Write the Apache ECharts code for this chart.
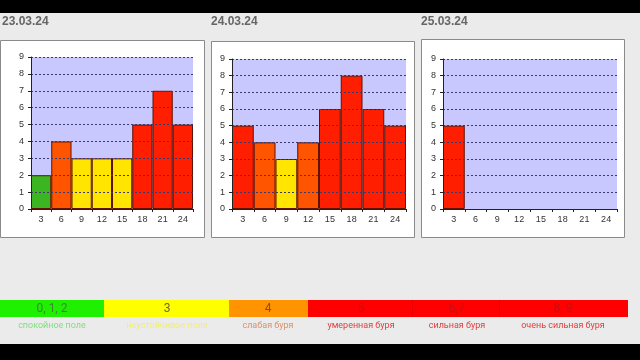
<!DOCTYPE html>
<html><head><meta charset="utf-8">
<script src="https://cdn.jsdelivr.net/npm/echarts@6/dist/echarts.min.js"></script>
<style>html,body{margin:0;padding:0;background:#ebebeb;}#c{width:640px;height:360px;}</style>
</head><body><div id="c"></div>
<script>
const hours = ['3','6','9','12','15','18','21','24'];
const dates = ['23.03.24','24.03.24','25.03.24'];
const kpDay1 = [2,4,3,3,3,5,7,5];
const kpDay2 = [5,4,3,4,6,8,6,5];
const kpDay3 = [5,null,null,null,null,null,null,null];
const yTicks = [0,1,2,3,4,5,6,7,8,9];
const scaleLabels = ['0, 1, 2','3','4','5','6,7','8, 9'];
const scaleNames = ['спокойное поле','неустойчивое поле','слабая буря','умеренная буря','сильная буря','очень сильная буря'];

function barColor(v){
  if (v <= 2) return '#3bb521';
  if (v === 3) return '#ffe500';
  if (v === 4) return '#ff5500';
  return '#ff1e00';
}

const chart = echarts.init(document.getElementById('c'), null, {renderer:'canvas'});
const grids = [
  {left:31, top:57, width:162, height:152},
  {left:232, top:59, width:174, height:150},
  {left:443, top:59, width:174, height:150}
];
const boxes = [
  {x:0.5, y:40.5, w:204, h:197},
  {x:211.5, y:41.5, w:203, h:196},
  {x:421.5, y:39.5, w:203, h:198}
];
const titleX = [2, 211, 421];
const series = [kpDay1, kpDay2, kpDay3];

const option = {
  animation:false,
  backgroundColor:'#ebebeb',
  grid: grids.map(g => Object.assign({show:true, backgroundColor:'#c8c8ff', borderWidth:0, z:2}, g)),
  xAxis: grids.map((g,i) => ({
    type:'category', gridIndex:i, data:hours,
    axisLine:{show:true, lineStyle:{color:'#222', width:1}},
    axisTick:{show:true, length:3, lineStyle:{color:'#222'}},
    axisLabel:{color:'#333', fontSize:9, fontFamily:'Arial, Liberation Sans', margin:6},
    z:5
  })),
  yAxis: grids.map((g,i) => ({
    type:'value', gridIndex:i, min:0, max:9, interval:1,
    axisLine:{show:true, lineStyle:{color:'#222', width:1}},
    axisTick:{show:true, length:3, lineStyle:{color:'#222'}},
    axisLabel:{color:'#333', fontSize:9, fontFamily:'Arial, Liberation Sans', margin:7,
      formatter: v => yTicks.includes(v) ? String(v) : ''},
    splitLine:{show:true, lineStyle:{color:'#3a3a70', type:[2,2], width:1}},
    z:5
  })),
  series: series.map((d,i) => ({
    type:'bar', xAxisIndex:i, yAxisIndex:i, barCategoryGap:'0%',
    data: d.map(v => v == null ? null : {value:v, itemStyle:{color:barColor(v)}}),
    itemStyle:{borderColor:'#5e1200', borderWidth:1},
    z:3
  })),
  graphic: [
    {type:'rect', shape:{x:0,y:0,width:640,height:13}, style:{fill:'#000'}, z:-5},
    {type:'rect', shape:{x:0,y:344,width:640,height:16}, style:{fill:'#000'}, z:-5},
    ...boxes.map(b => ({type:'rect', shape:{x:b.x,y:b.y,width:b.w,height:b.h}, style:{fill:'#fff', stroke:'#8a8a8a', lineWidth:1}, z:-5})),
    ...dates.map((t,i) => ({type:'text', x:titleX[i], y:16, style:{text:t, fill:'#666', font:'bold 12px Arial, Liberation Sans'}, z:10})),
    // scale bar
    {type:'rect', shape:{x:0,y:300,width:104,height:17}, style:{fill:'#1ef000'}, z:1},
    {type:'rect', shape:{x:104,y:300,width:125,height:17}, style:{fill:'#ffff00'}, z:1},
    {type:'rect', shape:{x:229,y:300,width:79,height:17}, style:{fill:'#ff9400'}, z:1},
    {type:'rect', shape:{x:308,y:300,width:320,height:17}, style:{fill:'#ff0000'}, z:1},
    {type:'line', shape:{x1:412.5,y1:300,x2:412.5,y2:317}, style:{stroke:'#e40000', lineWidth:1}, z:2},
    {type:'line', shape:{x1:499.5,y1:300,x2:499.5,y2:317}, style:{stroke:'#e40000', lineWidth:1}, z:2},
    ...scaleLabels.map((t,i) => ({type:'text', x:[52,167,268,361,457,563][i], y:308.5,
      style:{text:t, fill:['#3a8a30','#6e6a20','#86501a','#c41010','#c41010','#c41010'][i], font:'12px Roboto, Arial', align:'center', verticalAlign:'middle'}, z:3})),
    ...scaleNames.map((t,i) => ({type:'text', x:[52,167,268,361,457,563][i], y:325.5,
      style:{text:t, fill:['#7ee07e','#f4f060','#d8906a','#e04040','#e04040','#e04040'][i], font:'9px Roboto, Arial', align:'center', verticalAlign:'middle'}, z:3}))
  ]
};
chart.setOption(option);
</script></body></html>
